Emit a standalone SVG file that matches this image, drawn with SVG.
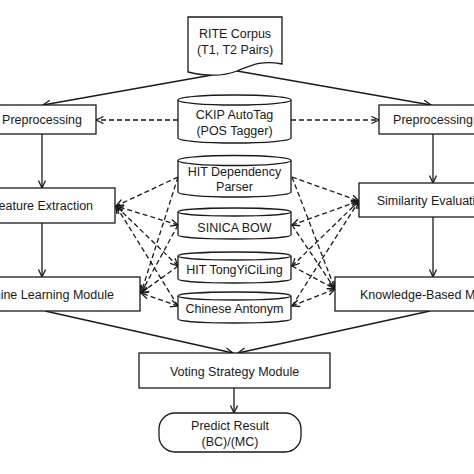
<svg xmlns="http://www.w3.org/2000/svg" width="474" height="474" viewBox="0 0 474 474">
<style>
.box{fill:#fff;stroke:#1a1a1a;stroke-width:1.3}
.t{font-family:"Liberation Sans",Arial,sans-serif;font-size:12.5px;fill:#1a1a1a;text-anchor:middle}
.c{fill:none;stroke:#1a1a1a;stroke-width:1.3}
.d{fill:none;stroke:#1a1a1a;stroke-width:1.3;stroke-dasharray:5 3}
</style>
<defs>
<marker id="ah" markerUnits="userSpaceOnUse" markerWidth="10" markerHeight="10" refX="8" refY="4" orient="auto-start-reverse">
<path d="M0.5,0.5 L8,4 L0.5,7.5" fill="none" stroke="#1a1a1a" stroke-width="1.3"/>
</marker>
</defs>
<rect width="474" height="474" fill="#fff"/>
<g id="connectors">
<line class="c" x1="212" y1="75" x2="43" y2="105" marker-end="url(#ah)"/>
<line class="c" x1="237" y1="71" x2="431" y2="105" marker-end="url(#ah)"/>
<line class="c" x1="42" y1="134" x2="42" y2="188" marker-end="url(#ah)"/>
<line class="c" x1="42" y1="223" x2="42" y2="277" marker-end="url(#ah)"/>
<line class="c" x1="433" y1="134" x2="433" y2="183" marker-end="url(#ah)"/>
<line class="c" x1="433" y1="217" x2="433" y2="277" marker-end="url(#ah)"/>
<line class="c" x1="45" y1="311" x2="233" y2="353" marker-end="url(#ah)"/>
<line class="c" x1="430" y1="311" x2="238" y2="353" marker-end="url(#ah)"/>
<line class="c" x1="234" y1="388" x2="234" y2="413" marker-end="url(#ah)"/>
<line class="d" x1="178" y1="120" x2="96" y2="120" marker-end="url(#ah)"/>
<line class="d" x1="291" y1="120" x2="379" y2="120" marker-end="url(#ah)"/>
<line class="d" x1="178" y1="177" x2="116" y2="206" marker-end="url(#ah)"/>
<line class="d" x1="178" y1="225" x2="116" y2="206" marker-end="url(#ah)" marker-start="url(#ah)"/>
<line class="d" x1="178" y1="266" x2="116" y2="206" marker-end="url(#ah)" marker-start="url(#ah)"/>
<line class="d" x1="178" y1="306" x2="116" y2="206" marker-end="url(#ah)"/>
<line class="d" x1="178" y1="177" x2="141" y2="293" marker-end="url(#ah)"/>
<line class="d" x1="178" y1="225" x2="141" y2="293" marker-end="url(#ah)"/>
<line class="d" x1="178" y1="266" x2="141" y2="293" marker-end="url(#ah)"/>
<line class="d" x1="178" y1="306" x2="141" y2="293" marker-end="url(#ah)" marker-start="url(#ah)"/>
<line class="d" x1="292" y1="177" x2="359" y2="201" marker-end="url(#ah)"/>
<line class="d" x1="292" y1="225" x2="359" y2="201" marker-end="url(#ah)" marker-start="url(#ah)"/>
<line class="d" x1="292" y1="266" x2="359" y2="201" marker-end="url(#ah)" marker-start="url(#ah)"/>
<line class="d" x1="292" y1="306" x2="359" y2="201" marker-end="url(#ah)"/>
<line class="d" x1="292" y1="177" x2="335" y2="289" marker-end="url(#ah)"/>
<line class="d" x1="292" y1="225" x2="335" y2="289" marker-end="url(#ah)"/>
<line class="d" x1="292" y1="266" x2="335" y2="289" marker-end="url(#ah)"/>
<line class="d" x1="292" y1="306" x2="335" y2="289" marker-end="url(#ah)" marker-start="url(#ah)"/>
</g>
<g id="corpus">
<path class="box" d="M188,17 H282 V64 C262,60 252,65 237,71 C222,77 205,76 188,72 Z"/>
<text class="t" x="235" y="38">RITE Corpus</text>
<text class="t" x="235" y="54">(T1, T2 Pairs)</text>
</g>
<g id="preproc-left">
<rect class="box" x="-12" y="105" width="108" height="29"/>
<text class="t" x="42" y="124">Preprocessing</text>
</g>
<g id="preproc-right">
<rect class="box" x="379" y="105" width="108" height="29"/>
<text class="t" x="433" y="124">Preprocessing</text>
</g>
<g id="feature">
<rect class="box" x="-31" y="188" width="146" height="35"/>
<text class="t" x="42" y="210">Feature Extraction</text>
</g>
<g id="similarity">
<rect class="box" x="359" y="183" width="148" height="34"/>
<text class="t" x="433" y="205">Similarity Evaluation</text>
</g>
<g id="ml">
<rect class="box" x="-56" y="277" width="196" height="34"/>
<text class="t" x="42" y="299">Machine Learning Module</text>
</g>
<g id="kb">
<rect class="box" x="335" y="277" width="196" height="34"/>
<text class="t" x="433" y="299">Knowledge-Based Module</text>
</g>
<g id="ckip">
<path class="box" d="M178,100 A56.5,5 0 0,1 291,100 V138 A56.5,5 0 0,1 178,138 Z"/>
<path class="c" d="M178,100 A56.5,5 0 0,0 291,100"/>
<text class="t" x="234.5" y="119">CKIP AutoTag</text>
<text class="t" x="234.5" y="135">(POS Tagger)</text>
</g>
<g id="hitdep">
<path class="box" d="M178,160.5 A56.5,5 0 0,1 291,160.5 V192 A56.5,5 0 0,1 178,192 Z"/>
<path class="c" d="M178,160.5 A56.5,5 0 0,0 291,160.5"/>
<text class="t" x="234.5" y="176">HIT Dependency</text>
<text class="t" x="234.5" y="191">Parser</text>
</g>
<g id="sinica">
<path class="box" d="M178,212 A56.5,4 0 0,1 291,212 V235 A56.5,4 0 0,1 178,235 Z"/>
<path class="c" d="M178,212 A56.5,4 0 0,0 291,212"/>
<text class="t" x="234.5" y="232">SINICA BOW</text>
</g>
<g id="tongyi">
<path class="box" d="M178,256 A56.5,4 0 0,1 291,256 V279 A56.5,4 0 0,1 178,279 Z"/>
<path class="c" d="M178,256 A56.5,4 0 0,0 291,256"/>
<text class="t" x="234.5" y="274">HIT TongYiCiLing</text>
</g>
<g id="antonym">
<path class="box" d="M178,296 A56.5,4 0 0,1 291,296 V319 A56.5,4 0 0,1 178,319 Z"/>
<path class="c" d="M178,296 A56.5,4 0 0,0 291,296"/>
<text class="t" x="234.5" y="313">Chinese Antonym</text>
</g>
<g id="voting">
<rect class="box" x="139" y="353" width="191" height="35"/>
<text class="t" x="234.5" y="376">Voting Strategy Module</text>
</g>
<g id="predict">
<rect class="box" x="159" y="413" width="142" height="39" rx="16" ry="16"/>
<text class="t" x="230" y="430">Predict Result</text>
<text class="t" x="230" y="446">(BC)/(MC)</text>
</g>
</svg>
